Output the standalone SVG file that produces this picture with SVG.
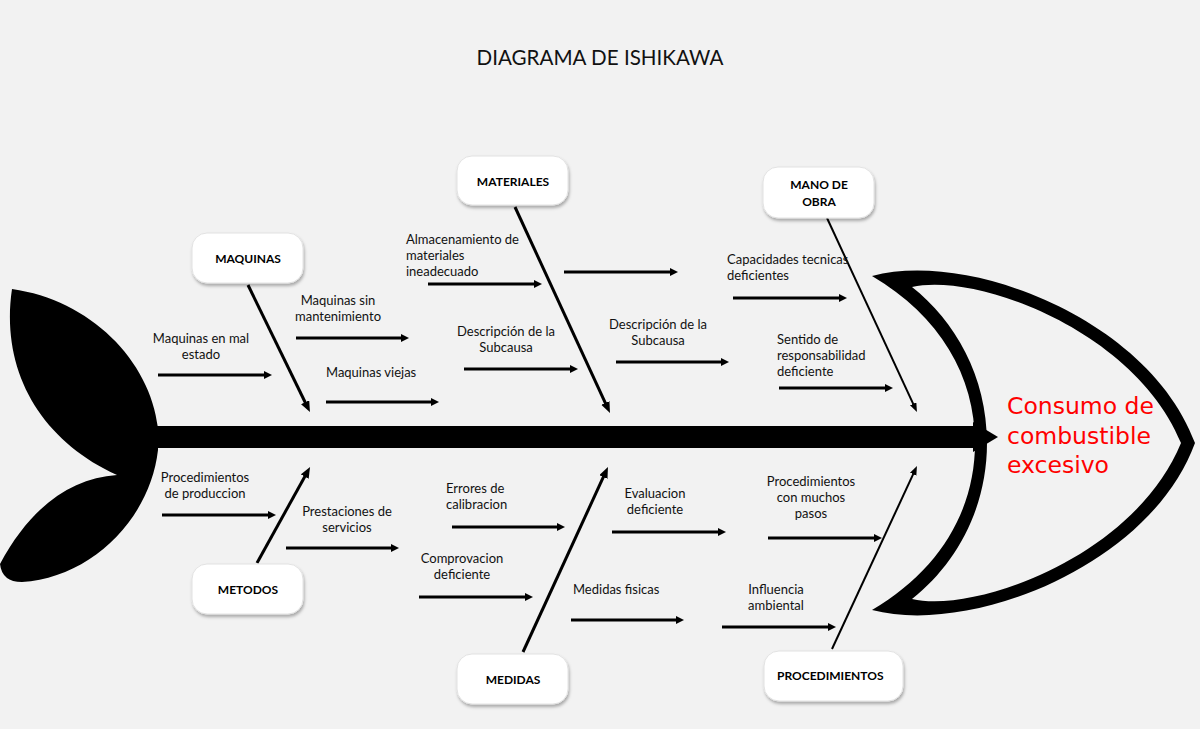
<svg xmlns="http://www.w3.org/2000/svg" width="1200" height="729" viewBox="0 0 1200 729">
  <defs>
    <style>
      .lbl { font-family: Lato, "Open Sans", "Liberation Sans", sans-serif; font-size: 13px; fill: #111; }
      .c { text-anchor: middle; }
      .nodeTxt { font-family: Lato, "Open Sans", "Liberation Sans", sans-serif; font-size: 12px; font-weight: bold; fill: #000; }
      .box { fill: #ffffff; stroke: #e2e2e2; stroke-width: 1; filter: url(#shadow); }
      .sub { stroke: #000; stroke-width: 3; fill: none; marker-end: url(#headS); }
      .bone { stroke: #000; stroke-width: 3; fill: none; marker-end: url(#headB); }
      .boneT { stroke: #000; stroke-width: 2; fill: none; marker-end: url(#headT); }
    </style>
    <filter id="shadow" x="-20%" y="-20%" width="140%" height="150%">
      <feDropShadow dx="1" dy="2.5" stdDeviation="1.5" flood-color="#000" flood-opacity="0.3"/>
    </filter>
    <marker id="headS" markerUnits="userSpaceOnUse" markerWidth="9" markerHeight="9" refX="1" refY="4" orient="auto">
      <path d="M0,0 L8,4 L0,8 Z" fill="#000"/>
    </marker>
    <marker id="headB" markerUnits="userSpaceOnUse" markerWidth="12" markerHeight="10" refX="2" refY="4.5" orient="auto">
      <path d="M0,0 L11,4.5 L0,9 Z" fill="#000"/>
    </marker>
    <marker id="headT" markerUnits="userSpaceOnUse" markerWidth="10" markerHeight="8" refX="2" refY="3.5" orient="auto">
      <path d="M0,0 L9,3.5 L0,7 Z" fill="#000"/>
    </marker>
  </defs>

  <rect x="0" y="0" width="1200" height="729" fill="#f2f2f2"/>

  <text x="600" y="65" text-anchor="middle" font-family="Lato, 'Open Sans', 'Liberation Sans', sans-serif" font-size="20.6" fill="#111">DIAGRAMA DE ISHIKAWA</text>

  <g id="fish">
    <path id="tail" d="M12,289 C90,300 150,360 158,428 L158,450 C150,520 90,578 22,582 Q2,582 0,564 C30,508 70,478 117,475 C40,440 0,370 12,289 Z" fill="#000"/>
    <rect id="spine" x="157" y="426" width="818" height="22" fill="#000"/>
    <path id="spine-tip" d="M973,422 L998,437 L973,452 Z" fill="#000"/>
    <path id="head" fill="#000" fill-rule="evenodd"
      d="M872,276 C970,250 1150,320 1195,443 C1150,566 970,636 872,610 C940,570 975,510 975,443 C975,376 940,316 872,276 Z
         M912,287 C975,272 1135,330 1181,443 C1135,556 975,614 912,599 C955,565 987,510 987,443 C987,376 955,321 912,287 Z"/>
  </g>

  <g id="connectors">
    <line class="bone" x1="248" y1="285" x2="306" y2="404"/>
    <line class="bone" x1="515" y1="207" x2="606.2" y2="404.8"/>
    <line class="boneT" x1="827" y1="218" x2="914" y2="405.6"/>
    <line class="bone" x1="257" y1="563" x2="305.7" y2="474.9"/>
    <line class="bone" x1="523" y1="652" x2="604.2" y2="475.2"/>
    <line class="boneT" x1="832" y1="649" x2="914" y2="472.4"/>

    <line class="sub" x1="158" y1="375" x2="265" y2="375"/>
    <line class="sub" x1="296" y1="338" x2="402" y2="338"/>
    <line class="sub" x1="326" y1="402" x2="432" y2="402"/>
    <line class="sub" x1="428" y1="284" x2="535" y2="284"/>
    <line class="sub" x1="564" y1="272" x2="671" y2="272"/>
    <line class="sub" x1="464" y1="369" x2="571" y2="369"/>
    <line class="sub" x1="616" y1="362" x2="722" y2="362"/>
    <line class="sub" x1="733" y1="298" x2="840" y2="298"/>
    <line class="sub" x1="779" y1="388" x2="886" y2="388"/>

    <line class="sub" x1="162" y1="515" x2="269" y2="515"/>
    <line class="sub" x1="286" y1="548" x2="392" y2="548"/>
    <line class="sub" x1="452" y1="527" x2="558" y2="527"/>
    <line class="sub" x1="419" y1="597" x2="526" y2="597"/>
    <line class="sub" x1="612" y1="532" x2="719" y2="532"/>
    <line class="sub" x1="571" y1="620" x2="677" y2="620"/>
    <line class="sub" x1="768" y1="538" x2="875" y2="538"/>
    <line class="sub" x1="722" y1="627" x2="829" y2="627"/>
  </g>

  <g id="node-maquinas">
    <rect class="box" x="192" y="233" width="111" height="50" rx="15"/>
    <text class="nodeTxt" x="248" y="263" text-anchor="middle">MAQUINAS</text>
  </g>
  <g id="node-materiales">
    <rect class="box" x="457" y="156" width="111" height="49" rx="15"/>
    <text class="nodeTxt" x="513" y="186" text-anchor="middle">MATERIALES</text>
  </g>
  <g id="node-mano-de-obra">
    <rect class="box" x="763" y="167" width="111" height="51" rx="15"/>
    <text class="nodeTxt" x="819" y="189" text-anchor="middle">MANO DE</text>
    <text class="nodeTxt" x="819" y="206" text-anchor="middle">OBRA</text>
  </g>
  <g id="node-metodos">
    <rect class="box" x="192" y="564" width="111" height="50" rx="15"/>
    <text class="nodeTxt" x="248" y="594" text-anchor="middle">METODOS</text>
  </g>
  <g id="node-medidas">
    <rect class="box" x="457" y="654" width="111" height="50" rx="15"/>
    <text class="nodeTxt" x="513" y="684" text-anchor="middle">MEDIDAS</text>
  </g>
  <g id="node-procedimientos">
    <rect class="box" x="764" y="651" width="139" height="50" rx="15"/>
    <text class="nodeTxt" x="777" y="680">PROCEDIMIENTOS</text>
  </g>

  <g id="effect">
    <text font-family="'DejaVu Sans', Verdana, sans-serif" font-size="23.5" fill="#ff0000">
      <tspan x="1007" y="414">Consumo de</tspan>
      <tspan x="1007" y="444">combustible</tspan>
      <tspan x="1007" y="473">excesivo</tspan>
    </text>
  </g>

  <g id="cause-maquinas-en-mal-estado">
    <text class="lbl c" x="201" y="343">Maquinas en mal</text>
    <text class="lbl c" x="201" y="359">estado</text>
  </g>
  <g id="cause-maquinas-sin-mantenimiento">
    <text class="lbl c" x="338" y="305">Maquinas sin</text>
    <text class="lbl c" x="338" y="321">mantenimiento</text>
  </g>
  <g id="cause-maquinas-viejas">
    <text class="lbl" x="326" y="377">Maquinas viejas</text>
  </g>
  <g id="cause-almacenamiento">
    <text class="lbl" x="406" y="244">Almacenamiento de</text>
    <text class="lbl" x="406" y="260">materiales</text>
    <text class="lbl" x="406" y="276">ineadecuado</text>
  </g>
  <g id="cause-descripcion-1">
    <text class="lbl c" x="506" y="336">Descripción de la</text>
    <text class="lbl c" x="506" y="352">Subcausa</text>
  </g>
  <g id="cause-descripcion-2">
    <text class="lbl c" x="658" y="329">Descripción de la</text>
    <text class="lbl c" x="658" y="345">Subcausa</text>
  </g>
  <g id="cause-capacidades">
    <text class="lbl" x="727" y="264">Capacidades tecnicas</text>
    <text class="lbl" x="727" y="280">deficientes</text>
  </g>
  <g id="cause-sentido">
    <text class="lbl" x="777" y="344">Sentido de</text>
    <text class="lbl" x="777" y="360">responsabilidad</text>
    <text class="lbl" x="777" y="376">deficiente</text>
  </g>

  <g id="cause-procedimientos-produccion">
    <text class="lbl c" x="205" y="482">Procedimientos</text>
    <text class="lbl c" x="205" y="498">de produccion</text>
  </g>
  <g id="cause-prestaciones">
    <text class="lbl c" x="347" y="516">Prestaciones de</text>
    <text class="lbl c" x="347" y="532">servicios</text>
  </g>
  <g id="cause-errores">
    <text class="lbl" x="446" y="493">Errores de</text>
    <text class="lbl" x="446" y="509">calibracion</text>
  </g>
  <g id="cause-comprovacion">
    <text class="lbl c" x="462" y="563">Comprovacion</text>
    <text class="lbl c" x="462" y="579">deficiente</text>
  </g>
  <g id="cause-evaluacion">
    <text class="lbl c" x="655" y="498">Evaluacion</text>
    <text class="lbl c" x="655" y="514">deficiente</text>
  </g>
  <g id="cause-medidas-fisicas">
    <text class="lbl" x="573" y="594">Medidas fisicas</text>
  </g>
  <g id="cause-procedimientos-pasos">
    <text class="lbl c" x="811" y="486">Procedimientos</text>
    <text class="lbl c" x="811" y="502">con muchos</text>
    <text class="lbl c" x="811" y="518">pasos</text>
  </g>
  <g id="cause-influencia">
    <text class="lbl c" x="776" y="594">Influencia</text>
    <text class="lbl c" x="776" y="610">ambiental</text>
  </g>
</svg>
